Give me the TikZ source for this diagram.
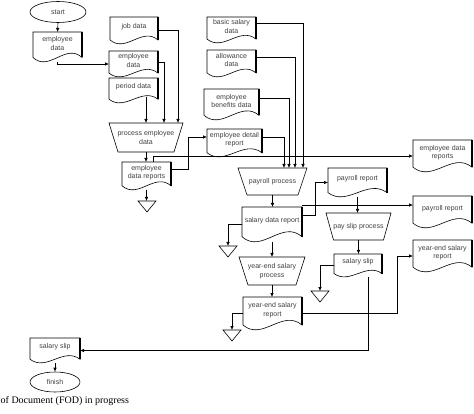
\documentclass[tikz,border=0pt]{standalone}
\usepackage{fontspec}
\setmainfont{Liberation Sans}
\newfontfamily\capfont{Liberation Serif}
\usetikzlibrary{arrows.meta,calc,shapes.geometric}
\tikzset{
 shp/.style={draw=black, line width=0.6pt},
 arr/.style={draw=black, line width=0.6pt, -{Latex[length=4pt,width=3.5pt]}},
 box/.style={draw=none, inner sep=0pt, outer sep=0pt, rectangle},
 txt/.style={inner sep=0pt, align=center, font=\fontsize{7}{8.5}\selectfont, text=black!75},
 term/.style={shp, ellipse, inner sep=0pt, font=\fontsize{7}{8.5}\selectfont, text=black!75},
}
\newcommand\mkdoc[6]{%
 \node[box, minimum width={#4-#2}, minimum height={#5-#3}] (#1) at ({(#2+#4)/2},{(#3+#5)/2}) {};
 \draw[shp] let \p1=(#1.north west), \p2=(#1.south east), \n1={\y1-\y2}, \n2={\x2-\x1} in
  (\x1,\y1) -- (\x2,\y1) -- (\x2,{\y2+0.15*\n1})
  .. controls ({\x2-0.33*\n2},{\y2+0.65*\n1}) and ({\x1+0.33*\n2},{\y2-0.35*\n1}) .. (\x1,{\y2+0.15*\n1}) -- cycle;
 \draw[line width=1.1pt] let \p1=(#1.north east), \p2=(#1.south east), \n1={\y1-\y2} in
  (\x1,\y1) -- (\x1,{\y2+0.15*\n1});
 \node[txt] (#1-t) at ($(#1.center)+(0,-3.5)$) {#6};}
\newcommand\mktrap[7]{%
 \node[box, minimum width={#4-#2}, minimum height={#5-#3}] (#1) at ({(#2+#4)/2},{(#3+#5)/2}) {};
 \draw[shp] (#1.north west) -- (#1.north east) -- ([xshift=-#6pt]#1.south east) -- ([xshift=#6pt]#1.south west) -- cycle;
 \node[txt] (#1-t) at (#1.center) {#7};}
\newcommand\mktri[4]{%
 \node[box, minimum width=18pt, minimum height={#4-#3}] (#1) at (#2,{(#3+#4)/2}) {};
 \draw[shp] (#1.north west) -- (#1.north east) -- (#1.south) -- cycle;}
\begin{document}
\begin{tikzpicture}[x=1pt,y=-1pt]
\useasboundingbox (0,0) rectangle (474,414);
% terminals
\node[term, minimum width=56pt, minimum height=21pt] (start) at (58,12) {start};
\node[term, minimum width=50pt, minimum height=20pt] (finish) at (55,382) {finish};
% documents
\mkdoc{ed1}{33}{32}{82}{62}{employee\\data}
\mkdoc{job}{110}{17}{158}{44}{job data}
\mkdoc{ed2}{109}{51}{158}{77}{employee\\data}
\mkdoc{period}{109}{78}{158}{103}{period data}
\mkdoc{edr}{122}{162}{171}{190}{employee\\data reports}
\mkdoc{bsd}{207}{17}{256}{43}{basic salary\\data}
\mkdoc{alw}{207}{50}{256}{77}{allowance\\data}
\mkdoc{ebd}{204}{89}{259}{120}{employee\\benefits data}
\mkdoc{edet}{207}{129}{262}{157}{employee detail\\report}
\mkdoc{edrR}{413}{140}{472}{172}{employee data\\reports}
\mkdoc{sdr}{242}{207}{302}{242}{salary data report}
\mkdoc{prep}{328}{168}{387}{197}{payroll report}
\mkdoc{prepR}{413}{196}{472}{228}{payroll report}
\mkdoc{yesr}{243}{297}{302}{330}{year-end salary\\report}
\mkdoc{yesrR}{413}{240}{472}{272}{year-end salary\\report}
\mkdoc{ss}{334}{254}{382}{277}{salary slip}
\mkdoc{ssL}{30}{338}{80}{363}{salary slip}
% manual operations
\mktrap{ped}{109}{123}{183}{152}{9}{process employee\\data}
\mktrap{pp}{238}{168}{307}{195}{9}{payroll process}
\mktrap{yesp}{239}{257}{305}{285}{9}{year-end salary\\process}
\mktrap{psp}{326}{213}{391}{240}{7.5}{pay slip process}
% storage triangles
\mktri{t1}{147}{201}{212}
\mktri{t2}{228}{246}{257}
\mktri{t3}{232}{330}{341}
\mktri{t4}{320}{291}{302}
% connectors
\draw[arr] (start.south) -- (ed1.north);
\draw[arr] (ed1.south) |- (ed2.west);
\draw[arr] (job.east) -| ($(ped.north)+(32,0)$);
\draw[arr] ($(ed2.east)+(0,-2)$) -| ($(ped.north)+(18,0)$);
\draw[arr] ($(ped.north |- period.south)+(0,-6)$) -- (ped.north);
\draw[arr] (ped.south) -- (ped.south |- edr.north);
\draw[arr] (edr.south) -- (edr.south |- t1.north);
\draw[arr] ($(edr.east)+(0,-7)$) -- ++(17,0) |- ($(edet.west)+(0,-6)$);
\draw[arr] ($(edr.north)+(7,0)$) |- (edrR.west);
\draw[arr] ($(bsd.east)+(0,-7)$) -| ($(pp.north)+(30.5,0)$);
\draw[arr] ($(alw.east)+(0,-6.5)$) -| ($(pp.north)+(22.5,0)$);
\draw[arr] ($(ebd.east)+(0,-6.5)$) -| ($(pp.north)+(16.5,0)$);
\draw[arr] ($(edet.east)+(0,-6)$) -| ($(pp.north)+(11.5,0)$);
\draw[arr] (pp.south) -- (pp.south |- sdr.north);
\draw[arr] (sdr.west) -| (t2.north);
\draw[arr] (sdr.south) -- (sdr.south |- yesp.north);
\draw[arr] ($(sdr.east)+(0,-9.5)$) -- ++(13,0) |- (prep.west);
\draw[arr] ($(sdr.north east)+(0,-2)$) -- ($(sdr.north east -| prepR.west)+(0,-2)$);
\draw[arr] (prep.south) -- (prep.south |- psp.north);
\draw[arr] (psp.south) -- (psp.south |- ss.north);
\draw[arr] (ss.west) -| (t4.north);
\draw[arr] ($(ss.south)+(10,0)$) |- (ssL.east);
\draw[arr] (yesp.south) -- (yesp.south |- yesr.north);
\draw[arr] (yesr.west) -| (t3.north);
\draw[arr] (yesr.east) -- ++(95,0) |- (yesrR.west);
\draw[arr] (ssL.south) -- (finish.north);
% caption
\node[anchor=base west, inner sep=0pt, font=\capfont\fontsize{10}{12}\selectfont] (cap) at (0.5,403.5) {of Document (FOD) in progress};
\end{tikzpicture}
\end{document}
